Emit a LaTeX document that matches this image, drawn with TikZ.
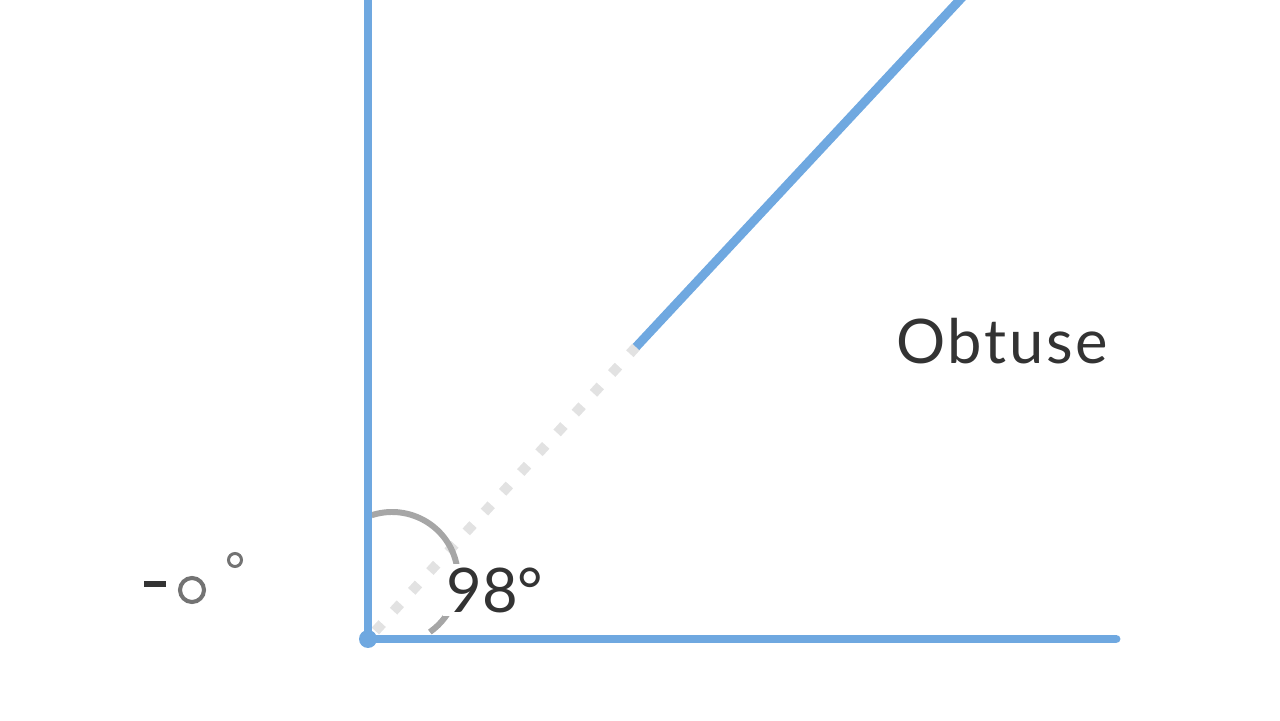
\documentclass[tikz,border=0pt]{standalone}
\usepackage{fontspec}
\setmainfont{Lato}
\definecolor{rayblue}{RGB}{111,168,224}
\definecolor{labelgray}{RGB}{51,51,51}
\begin{document}
\begin{tikzpicture}[x=0.02cm,y=0.02cm,
    label text/.style={text=labelgray,font=\fontsize{35}{42}\selectfont},
    ray/.style={draw=rayblue,line width=5.1pt},
    guide/.style={draw=gray!23,line width=5.7pt,dash pattern=on 5.7pt off 9.6pt,dash phase=9.1pt},
    angle arc/.style={draw=black!35,line width=3.4pt}]
            \useasboundingbox (0,0) rectangle (1280,720);
            \clip (0,0) rectangle (1280,720);
            \coordinate (o) at (368,81);
            \coordinate (up) at (368,745);
            \coordinate (right) at (1116,81);
            \coordinate (start) at (636,373);
            \coordinate (tip) at (983,745);
            \coordinate (c) at (392,142);
            \draw[guide] (o) -- (start);
            \draw[angle arc] (c) ++(108:1.32cm) arc[start angle=108,end angle=-55,radius=1.32cm];
            \draw[ray] (o) -- (up);
            \draw[ray,line cap=round] (o) -- (right);
            \draw[ray] (start) -- (tip);
            \fill[rayblue] (o) circle (0.18cm);
            \draw (495,130) node[label text,fill=white,inner sep=2pt](deg){98°};
            \draw (1002,379) node[label text](kind){\addfontfeature{LetterSpace=4.5}Obtuse};
            % leftover glyphs on the left
            \draw[labelgray,line width=3.4pt] (144,136) -- (166,136);
            \draw[black!55,line width=2.3pt] (192,130) circle (0.24cm);
            \draw[black!55,line width=1.7pt] (235,160) circle (0.13cm);
        \end{tikzpicture}
\end{document}
